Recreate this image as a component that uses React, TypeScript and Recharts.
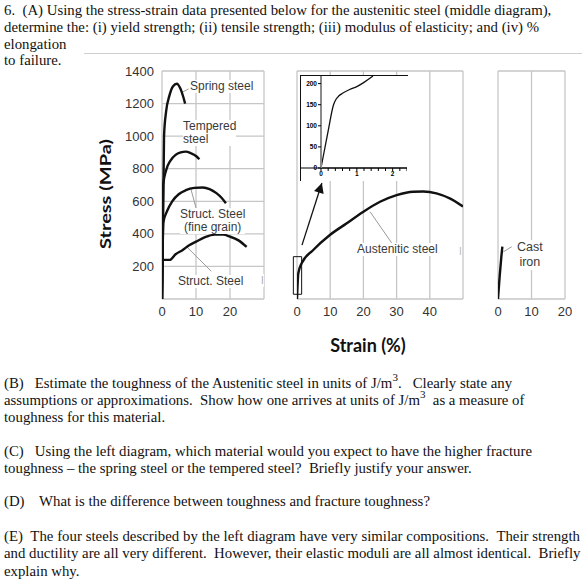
import React from "react";
import {
  LineChart,
  Line,
  XAxis,
  YAxis,
  CartesianGrid,
  ReferenceLine,
  ReferenceArea,
} from "recharts";

// [strain (%), stress (MPa)]
const springSteel: [number, number][] = [
  [0, 0], [0.6, 1000], [1.2, 1150], [2.2, 1250], [3.2, 1305], [4.4, 1322],
  [5.4, 1292], [6.2, 1245], [6.8, 1200],
];
const temperedSteel: [number, number][] = [
  [0, 0], [0.35, 700], [1.2, 790], [2.5, 850], [4, 885], [5.5, 900], [7, 905],
  [8.5, 895], [10, 878], [11, 858],
];
const fineGrainSteel: [number, number][] = [
  [0, 0], [0.4, 470], [1.5, 540], [3, 600], [5, 645], [7, 668], [9.5, 682],
  [12, 685], [14, 675], [16, 650], [17.5, 622], [18.8, 588],
];
const structSteel: [number, number][] = [
  [0, 0], [0.2, 240], [2.3, 240], [4, 275], [6, 300], [8, 330], [10, 352],
  [12.5, 378], [15.5, 395], [18, 395], [20, 383], [22.5, 360], [24.9, 320],
];
const austeniticSteel: [number, number][] = [
  [0, 0], [0.4, 158], [1.4, 219], [4.9, 301], [9.9, 393], [15, 465], [20, 536],
  [25, 597], [30, 638], [35, 659], [38, 660], [42, 649], [46, 618], [50, 568],
];
const castIron: [number, number][] = [[0, 0], [0.5, 140], [1, 260], [1.3, 322]];
const austeniticInset: [number, number][] = [
  [0, 0], [0.2, 88], [0.35, 150], [0.42, 163], [0.5, 171], [0.6, 177],
  [0.8, 186], [1, 193], [1.2, 203], [1.45, 218],
];

const stressTicks = [0, 200, 400, 600, 800, 1000, 1200, 1400];
const leftStrainTicks = [0, 10, 20];
const middleStrainTicks = [0, 10, 20, 30, 40];
const rightStrainTicks = [0, 10, 20];
const insetStressTicks = [0, 50, 100, 150, 200];
const insetStrainTicks = [0, 0.2, 0.4, 0.6, 0.8, 1, 1.2, 1.4, 1.6, 1.8, 2, 2.2, 2.4];
const insetStrainLabels = [0, 1, 2];

const toPoints = (rows: [number, number][]) =>
  rows.map(([strain, stress]) => ({ strain, stress }));

const GRID = "#c6c6c6";
const INK = "#111";
const SANS = "'Liberation Sans', Arial, sans-serif";
const SERIF = "'Liberation Serif', 'Times New Roman', serif";

const tickStyle = { fill: "#333", fontSize: 13, fontFamily: SANS };

const curve = (key: string, rows: [number, number][], w = 2.4) => (
  <Line
    key={key}
    data={toPoints(rows)}
    dataKey="stress"
    type="monotone"
    stroke={INK}
    strokeWidth={w}
    dot={false}
    activeDot={false}
    isAnimationActive={false}
  />
);

const leader = (key: string, a: [number, number], b: [number, number]) => (
  <ReferenceLine
    key={key}
    segment={[{ x: a[0], y: a[1] }, { x: b[0], y: b[1] }]}
    stroke="#9a9a9a"
    strokeWidth={1}
    ifOverflow="visible"
  />
);

const label: React.CSSProperties = {
  position: "absolute",
  fontFamily: SANS,
  fontSize: 12,
  color: "#3a3a3a",
  background: "#fff",
  lineHeight: "13px",
  whiteSpace: "nowrap",
};

function TextLine({
  base,
  children,
  justify,
}: {
  base: number;
  children: React.ReactNode;
  justify?: boolean;
}) {
  return (
    <div
      style={{
        position: "absolute",
        left: 4,
        top: base - 13.5,
        fontFamily: SERIF,
        fontSize: 14.8,
        lineHeight: "17px",
        color: "#111",
        whiteSpace: "pre",
        width: justify ? 576 : undefined,
        textAlign: justify ? "justify" : "left",
        textAlignLast: justify ? "justify" : undefined,
      }}
    >
      {children}
    </div>
  );
}

const sup = (
  <sup style={{ fontSize: 11, lineHeight: 0, verticalAlign: "7px" }}>3</sup>
);

export default function App() {
  return (
    <div
      style={{
        position: "absolute",
        left: 0,
        top: 0,
        width: 586,
        height: 585,
        background: "#fff",
        overflow: "hidden",
      }}
    >
      <svg width={0} height={0} style={{ position: "absolute" }}>
        <defs>
          <marker
            id="arrowHead"
            viewBox="0 0 10 10"
            refX={10}
            refY={5}
            markerWidth={13}
            markerHeight={10}
            markerUnits="userSpaceOnUse"
            orient="auto"
          >
            <path d="M0,0 L10,5 L0,10 z" fill={INK} />
          </marker>
        </defs>
      </svg>

      <TextLine base={15.5}>6.  (A) Using the stress-strain data presented below for the austenitic steel (middle diagram),</TextLine>
      <TextLine base={32.5}>determine the: (i) yield strength; (ii) tensile strength; (iii) modulus of elasticity; and (iv) %</TextLine>
      <TextLine base={49.5}>elongation</TextLine>
      <TextLine base={65}>to failure.</TextLine>
      <div style={{ position: "absolute", left: 84, top: 53, width: 498, height: 1, background: "#cfcfcf" }} />

      {/* left panel: four steels */}
      <div style={{ position: "absolute", left: 110, top: 61 }}>
        <LineChart width={160} height={258} margin={{ top: 10, right: 6, bottom: 0, left: 0 }}>
          <CartesianGrid stroke={GRID} strokeWidth={1.3} />
          <XAxis type="number" dataKey="strain" domain={[0, 30]} ticks={leftStrainTicks} interval={0}
            axisLine={false} tickLine={false} height={20} tick={tickStyle} allowDataOverflow />
          <YAxis type="number" domain={[0, 1400]} ticks={stressTicks} interval={0} width={52}
            axisLine={false} tickLine={false} tick={tickStyle}
            tickFormatter={(v: number) => (v === 0 ? "" : String(v))} />
          {leader("l1", [5.6, 1265], [7.8, 1290])}
          {leader("l2", [7.3, 320], [14.5, 170])}
          {leader("l3", [8.5, 675], [10, 560])}
          {curve("spring", springSteel)}
          {curve("tempered", temperedSteel)}
          {curve("fine", fineGrainSteel)}
          {curve("struct", structSteel)}
        </LineChart>
      </div>

      {/* middle panel: austenitic steel */}
      <div style={{ position: "absolute", left: 287, top: 61 }}>
        <LineChart width={180} height={258} margin={{ top: 10, right: 4, bottom: 0, left: 10 }}>
          <CartesianGrid stroke={GRID} strokeWidth={1.3} />
          <XAxis type="number" dataKey="strain" domain={[0, 50]} ticks={middleStrainTicks} interval={0}
            axisLine={false} tickLine={false} height={20} tick={tickStyle} allowDataOverflow />
          <YAxis type="number" domain={[0, 1400]} ticks={stressTicks} width={0}
            axisLine={false} tickLine={false} tick={false} />
          {leader("a1", [22, 536], [28.5, 345])}
          <ReferenceArea x1={-1.1} x2={1.4} y1={29} y2={260} fill="none" stroke={INK}
            strokeWidth={1} ifOverflow="visible" />
          <ReferenceLine segment={[{ x: 1.5, y: 331 }, { x: 7.5, y: 712 }]} stroke={INK}
            strokeWidth={1.3} ifOverflow="visible" markerEnd="url(#arrowHead)" />
          {curve("austenitic", austeniticSteel)}
        </LineChart>
      </div>

      {/* inset: elastic region */}
      <div
        style={{
          position: "absolute",
          left: 300,
          top: 75,
          width: 108,
          height: 106,
          boxSizing: "border-box",
          borderLeft: "1.5px solid #111",
          borderTop: "1.5px solid #111",
          background: "#fff",
        }}
      >
        <LineChart width={106} height={104} margin={{ top: 0, right: 0, bottom: 0, left: 0 }}>
          <XAxis type="number" dataKey="strain" domain={[0, 2.4]} ticks={insetStrainTicks} interval={0}
            height={12} tickSize={3} tickMargin={0} axisLine={{ stroke: "#000" }}
            tickLine={{ stroke: "#000" }}
            tick={{ fontSize: 6.5, fontWeight: 700, fill: "#000", fontFamily: SANS }}
            tickFormatter={(v: number) => (insetStrainLabels.includes(v) ? String(v) : "")} />
          <YAxis type="number" domain={[0, 218]} ticks={insetStressTicks} interval={0} width={20}
            tickSize={3} tickMargin={1} axisLine={{ stroke: "#8a8a8a", strokeWidth: 2 }}
            tickLine={{ stroke: "#000" }}
            tick={{ fontSize: 6.5, fontWeight: 700, fill: "#000", fontFamily: SANS }} />
          <ReferenceLine segment={[{ x: -0.56, y: 0 }, { x: 2.4, y: 0 }]} stroke="#000"
            strokeWidth={1} ifOverflow="visible" />
          {curve("inset", austeniticInset, 1.3)}
        </LineChart>
      </div>

      {/* right panel: cast iron */}
      <div style={{ position: "absolute", left: 478, top: 61, width: 94, height: 262, overflow: "hidden" }}>
        <LineChart width={97} height={258} margin={{ top: 10, right: 10, bottom: 0, left: 20 }}>
          <CartesianGrid stroke={GRID} strokeWidth={1.3} />
          <XAxis type="number" dataKey="strain" domain={[0, 20]} ticks={rightStrainTicks} interval={0}
            axisLine={false} tickLine={false} height={20} tick={tickStyle} allowDataOverflow />
          <YAxis type="number" domain={[0, 1400]} ticks={stressTicks} width={0}
            axisLine={false} tickLine={false} tick={false} />
          {leader("c1", [1.6, 290], [4.1, 321])}
          {curve("cast", castIron)}
        </LineChart>
      </div>

      {/* curve labels */}
      <div style={{ ...label, left: 190, top: 80 }}>Spring steel</div>
      <div style={{ ...label, left: 183, top: 120 }}>Tempered<br />steel</div>
      <div style={{ ...label, left: 180, top: 208, textAlign: "center" }}>Struct. Steel<br />(fine grain)</div>
      <div style={{ ...label, left: 178, top: 275 }}>Struct. Steel</div>
      <div style={{ ...label, left: 261, top: 274, color: "#aaa", fontSize: 10 }}>I</div>
      <div style={{ ...label, left: 357, top: 243 }}>Austenitic steel</div>
      <div style={{ ...label, left: 459, top: 245, color: "#bbb", fontSize: 10 }}>I</div>
      <div style={{ ...label, left: 517, top: 240, lineHeight: "15px", textAlign: "center", fontSize: 12.5 }}>
        Cast<br />iron
      </div>

      {/* axis titles */}
      <div
        style={{
          position: "absolute",
          left: 104,
          top: 194,
          transform: "translate(-50%, -50%) rotate(-90deg) scaleX(1.25)",
          fontFamily: "Lato, 'Open Sans', sans-serif",
          fontWeight: 700,
          fontSize: 16,
          whiteSpace: "nowrap",
          color: "#111",
        }}
      >
        Stress (MPa)
      </div>
      <div
        style={{
          position: "absolute",
          left: 308,
          top: 334,
          width: 120,
          textAlign: "center",
          fontFamily: "Lato, 'Open Sans', sans-serif",
          fontWeight: 700,
          fontSize: 18,
          lineHeight: "22px",
          color: "#111",
        }}
      >
        Strain (%)
      </div>

      <TextLine base={388.3}>(B)   Estimate the toughness of the Austenitic steel in units of J/m{sup}.   Clearly state any</TextLine>
      <TextLine base={405}>assumptions or approximations.  Show how one arrives at units of J/m{sup}  as a measure of</TextLine>
      <TextLine base={422.7}>toughness for this material.</TextLine>
      <TextLine base={456.7}>(C)   Using the left diagram, which material would you expect to have the higher fracture</TextLine>
      <TextLine base={473.3}>toughness – the spring steel or the tempered steel?  Briefly justify your answer.</TextLine>
      <TextLine base={506.7}>(D)    What is the difference between toughness and fracture toughness?</TextLine>
      <TextLine base={541.7} justify>(E)  The four steels described by the left diagram have very similar compositions.  Their strength</TextLine>
      <TextLine base={558.3} justify>and ductility are all very different.  However, their elastic moduli are all almost identical.  Briefly</TextLine>
      <TextLine base={576.7}>explain why.</TextLine>
    </div>
  );
}
